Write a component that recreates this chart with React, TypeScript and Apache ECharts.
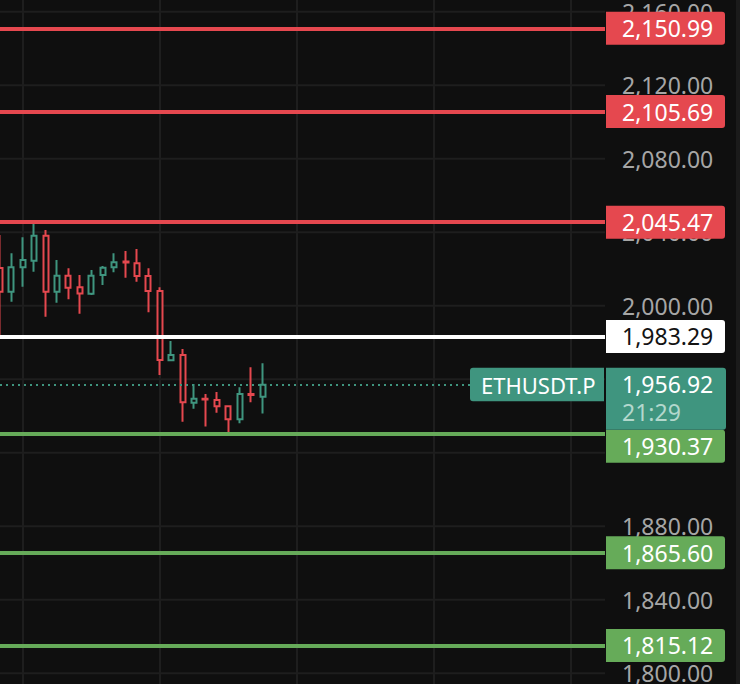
import React, { useEffect, useRef } from 'react';
import * as echarts from 'echarts';

// hidden time slots of the category axis (candles occupy the first 24)
const slots: string[] = Array.from({ length: 54 }, (_, i) => `t${i}`);

const opens = [2020.5, 2007.6, 2020.9, 2024.5, 2038.1, 2007.6, 2016.3, 2010.0, 2006.5, 2016.7, 2020.9, 2024.0,
  2023.1, 2016.2, 2008.0, 1970.3, 1973.2, 1947.2, 1949.4, 1948.7, 1945.3, 1938.2, 1952.0, 1950.5];
const closes = [2007.6, 2020.9, 2024.9, 2038.1, 2007.6, 2016.3, 2009.8, 2006.7, 2016.3, 2020.7, 2023.6, 2023.5,
  2016.2, 2008.0, 1970.4, 1973.2, 1947.4, 1949.4, 1948.9, 1945.3, 1938.2, 1952.0, 1951.4, 1956.92];
const lows = [1984.1, 2002.2, 2010.3, 2018.5, 1994.0, 2001.6, 2003.5, 1995.6, 2005.8, 2011.3, 2018.2, 2015.2,
  2013.1, 1996.4, 1962.3, 1970.0, 1936.9, 1943.9, 1934.2, 1941.8, 1930.2, 1936.0, 1947.4, 1941.4];
const highs = [2038.5, 2028.5, 2037.2, 2046.3, 2041.2, 2024.9, 2020.4, 2016.7, 2019.4, 2021.6, 2028.5, 2029.8,
  2030.9, 2020.4, 2010.0, 1980.8, 1976.4, 1957.4, 1952.0, 1953.0, 1945.4, 1955.6, 1966.5, 1968.7];

const resistanceLevels = [2150.99, 2105.69, 2045.47];
const pivotLevels = [1983.29];
const supportLevels = [1930.37, 1865.6, 1815.12];
const lastPrice = 1956.92;
const countdown = '21:29';
const symbolName = 'ETHUSDT.P';
const tickValues = [1800, 1840, 1880, 1920, 1960, 2000, 2040, 2080, 2120, 2160];

const Y_MIN = 1794.1;
const Y_MAX = 2166.4;

const BG = '#0f0f0f';
const RED = '#e5484f';
const TEAL = '#3f957f';
const GREEN = '#66ab59';
const GRID = '#1e1e1e';
const FONT = 'Noto Sans';

const fmt = (v: number) =>
  v.toLocaleString('en-US', { minimumFractionDigits: 2, maximumFractionDigits: 2 });

export default function App() {
  const ref = useRef<HTMLDivElement>(null);

  useEffect(() => {
    if (!ref.current) return;
    const chart = echarts.init(ref.current, null, { renderer: 'svg' });

    const candleData = opens.map((o, i) => [o, closes[i], lows[i], highs[i]]);
    const levelLines = [
      ...resistanceLevels.map((v) => ({ yAxis: v, lineStyle: { color: RED, width: 4, type: 'solid' } })),
      ...pivotLevels.map((v) => ({ yAxis: v, lineStyle: { color: '#ffffff', width: 4, type: 'solid' } })),
      ...supportLevels.map((v) => ({ yAxis: v, lineStyle: { color: GREEN, width: 4, type: 'solid' } })),
      { yAxis: lastPrice, lineStyle: { color: TEAL, width: 2, type: [2, 4] } },
    ];

    chart.setOption({
      animation: false,
      backgroundColor: BG,
      grid: { left: -1, right: 135, top: 0, bottom: 0 },
      xAxis: {
        type: 'category',
        data: slots,
        boundaryGap: false,
        axisLine: { show: false },
        axisTick: { show: false },
        axisLabel: { show: false },
        splitLine: {
          show: true,
          interval: (i: number) => i % 12 === 2,
          lineStyle: { color: GRID, width: 2 },
        },
      },
      yAxis: {
        type: 'value',
        position: 'right',
        min: Y_MIN,
        max: Y_MAX,
        show: false,
      },
      series: [
        {
          type: 'candlestick',
          data: candleData,
          barWidth: 5.5,
          itemStyle: {
            color: BG,
            color0: BG,
            borderColor: TEAL,
            borderColor0: RED,
            borderWidth: 2,
          },
          markLine: {
            silent: true,
            symbol: ['none', 'none'],
            label: { show: false },
            data: levelLines,
          },
        },
      ],
    });

    const y = (v: number) => chart.convertToPixel({ yAxisIndex: 0 }, v) as number;
    const H = 33;
    const BOX_X = 606;
    const BOX_W = 119;
    const TEXT_X = 622;

    const graphics: any[] = [];
    const boxes: Array<[number, number]> = []; // vertical extents of the right-side labels

    const addLabel = (v: number, top: number, bg: string, fg: string) => {
      boxes.push([top, top + H]);
      graphics.push({
        type: 'rect', z: 10,
        shape: { x: BOX_X, y: top, width: BOX_W, height: H, r: [0, 3, 3, 0] },
        style: { fill: bg },
      });
      graphics.push({
        type: 'text', z: 11,
        style: {
          text: fmt(v), x: TEXT_X, y: top + H / 2, fill: fg,
          fontSize: 23, fontFamily: FONT, verticalAlign: 'middle', align: 'left',
        },
      });
    };

    resistanceLevels.forEach((v) => addLabel(v, y(v) - H / 2, RED, '#ffffff'));
    pivotLevels.forEach((v) => addLabel(v, y(v) - H / 2, '#ffffff', '#131313'));

    // current price box (two lines)
    const pTop = y(lastPrice) - 17;
    const pH = 62;
    boxes.push([pTop, pTop + pH]);
    graphics.push({
      type: 'rect', z: 12,
      shape: { x: BOX_X, y: pTop, width: BOX_W + 1, height: pH, r: [0, 3, 3, 0] },
      style: { fill: TEAL },
    });
    graphics.push({
      type: 'text', z: 13,
      style: {
        text: fmt(lastPrice), x: TEXT_X, y: pTop + 16.5, fill: '#ffffff',
        fontSize: 23, fontFamily: FONT, verticalAlign: 'middle', align: 'left',
      },
    });
    graphics.push({
      type: 'text', z: 13,
      style: {
        text: countdown, x: TEXT_X, y: pTop + 44, fill: '#b3d8cd',
        fontSize: 23, fontFamily: FONT, verticalAlign: 'middle', align: 'left',
      },
    });
    // symbol box
    graphics.push({
      type: 'rect', z: 12,
      shape: { x: 470, y: pTop, width: 134, height: H + 0.5, r: [3, 0, 0, 3] },
      style: { fill: TEAL },
    });
    graphics.push({
      type: 'text', z: 13,
      style: {
        text: symbolName, x: 481, y: pTop + 17, fill: '#ffffff',
        fontSize: 22, fontFamily: FONT, verticalAlign: 'middle', align: 'left',
      },
    });

    // support labels, pushed below the price box when overlapping
    let minTop = pTop + pH;
    supportLevels.forEach((v) => {
      const top = Math.max(y(v) - H / 2, minTop);
      addLabel(v, top, GREEN, '#ffffff');
      minTop = top + H;
    });

    // horizontal grid lines and tick labels (labels fully hidden by a price box are not drawn)
    tickValues.forEach((v) => {
      const py = y(v);
      graphics.push({
        type: 'line',
        z: 0,
        shape: { x1: 0, y1: py, x2: 605, y2: py },
        style: { stroke: GRID, lineWidth: 2 },
      });
      const hidden = boxes.some(([t, b]) => py - 8.5 >= t && py + 8.5 <= b);
      if (!hidden) {
        graphics.push({
          type: 'text',
          z: 5,
          style: {
            text: fmt(v), x: TEXT_X, y: py, fill: '#a6a6a6',
            fontSize: 23, fontFamily: FONT, verticalAlign: 'middle', align: 'left',
          },
        });
      }
    });

    // right edge strip
    graphics.push({
      type: 'rect', z: 1,
      shape: { x: 736, y: 0, width: 4, height: 684 },
      style: { fill: '#1b1b1b' },
    });

    chart.setOption({ graphic: graphics });

    return () => chart.dispose();
  }, []);

  return (
    <div
      ref={ref}
      style={{ position: 'fixed', left: 0, top: 0, width: 740, height: 684 }}
    />
  );
}
